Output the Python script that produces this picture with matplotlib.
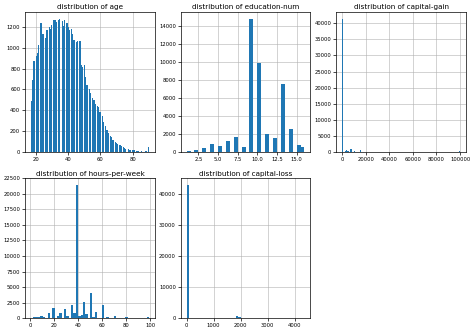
import matplotlib
matplotlib.use('Agg')
import matplotlib.pyplot as plt
from matplotlib.ticker import MultipleLocator

# value -> frequency tables for each column
age_vals = list(range(17, 91))
age_counts = [490, 690, 870, 920, 950, 1030, 1240, 1130, 1130, 1090,
              1170, 1200, 1180, 1220, 1270, 1270, 1250, 1270, 1280, 1260,
              1210, 1270, 1240, 1200, 1170, 1180, 1130, 1070, 1050, 1060,
              1060, 830, 810, 830, 720, 640, 600, 560, 520, 500,
              460, 440, 430, 380, 340, 290, 250, 210, 180, 150,
              140, 110, 95, 80, 70, 60, 55, 45, 35, 30,
              25, 20, 15, 15, 15, 10, 8, 8, 3, 1,
              2, 5, 2, 45]

edu_vals = list(range(1, 17))
edu_counts = [72, 222, 449, 823, 676, 1223, 1619, 577,
              14783, 9899, 1959, 1507, 7570, 2514, 785, 544]

gain_vals = [0, 2000, 3000, 4000, 5000, 7000, 10000, 15000, 20000, 25000, 99999]
gain_counts = [41500, 250, 500, 350, 300, 800, 150, 500, 60, 40, 230]

hours_vals = [1, 2, 3, 4, 5, 6, 7, 8, 9, 10, 12, 14, 15, 16, 18, 20, 22, 24,
              25, 26, 28, 30, 32, 35, 36, 37, 38, 39, 40, 41, 42, 43, 44, 45,
              46, 47, 48, 49, 50, 52, 54, 55, 56, 58, 60, 62, 64, 65, 66, 70,
              72, 75, 77, 80, 84, 85, 90, 96, 98, 99]
hours_counts = [20, 40, 50, 50, 60, 60, 30, 200, 20, 350, 200, 30, 550, 230, 90,
                1650, 40, 350, 850, 20, 80, 1450, 350, 1800, 300, 200, 650, 40,
                21400, 30, 350, 200, 300, 2600, 30, 30, 700, 20, 4100, 150, 20,
                1000, 80, 30, 2050, 20, 20, 230, 20, 400, 70, 60, 10, 170, 40,
                40, 40, 10, 10, 120]

loss_vals = [0, 155, 213, 323, 419, 625, 653, 810, 880, 974, 1092, 1138, 1408,
             1485, 1579, 1590, 1602, 1672, 1740, 1848, 1876, 1887, 1902, 1977,
             1980, 2001, 2051, 2179, 2258, 2339, 2377, 2415, 2444, 3900, 4356]
loss_counts = [43082, 1, 5, 3, 2, 15, 3, 2, 5, 2, 6, 3, 20,
               70, 40, 55, 45, 60, 50, 60, 50, 230, 290, 250,
               35, 50, 30, 20, 35, 15, 30, 60, 15, 2, 1]

columns = ['age', 'education-num', 'capital-gain', 'hours-per-week', 'capital-loss']
tables = [(age_vals, age_counts), (edu_vals, edu_counts), (gain_vals, gain_counts),
          (hours_vals, hours_counts), (loss_vals, loss_counts)]
n_bins = [100, 30, 100, 50, 50]

plt.rcParams['font.size'] = 3.8
plt.rcParams['axes.linewidth'] = 0.5
for ax_name in ['xtick', 'ytick']:
    plt.rcParams[f'{ax_name}.major.size'] = 2
    plt.rcParams[f'{ax_name}.major.width'] = 0.5
    plt.rcParams[f'{ax_name}.major.pad'] = 1.5

fig, axes = plt.subplots(2, 3, figsize=(4.74, 3.31), dpi=100)
fig.subplots_adjust(left=0.053, right=0.983, top=0.964, bottom=0.039,
                    wspace=0.2, hspace=0.19)

for ax, col, (vals, counts), nb in zip(axes.flat, columns, tables, n_bins):
    ax.hist(vals, bins=nb, weights=counts, color='#1f77b4')
    ax.grid(True, color='#b0b0b0', linewidth=0.4)
    ax.set_axisbelow(True)
    ax.set_title(f'distribution of {col}', fontsize=5.2, pad=2)

axes[1, 0].yaxis.set_major_locator(MultipleLocator(2500))
axes[1, 2].axis('off')

fig.savefig('out.png', dpi=100)
